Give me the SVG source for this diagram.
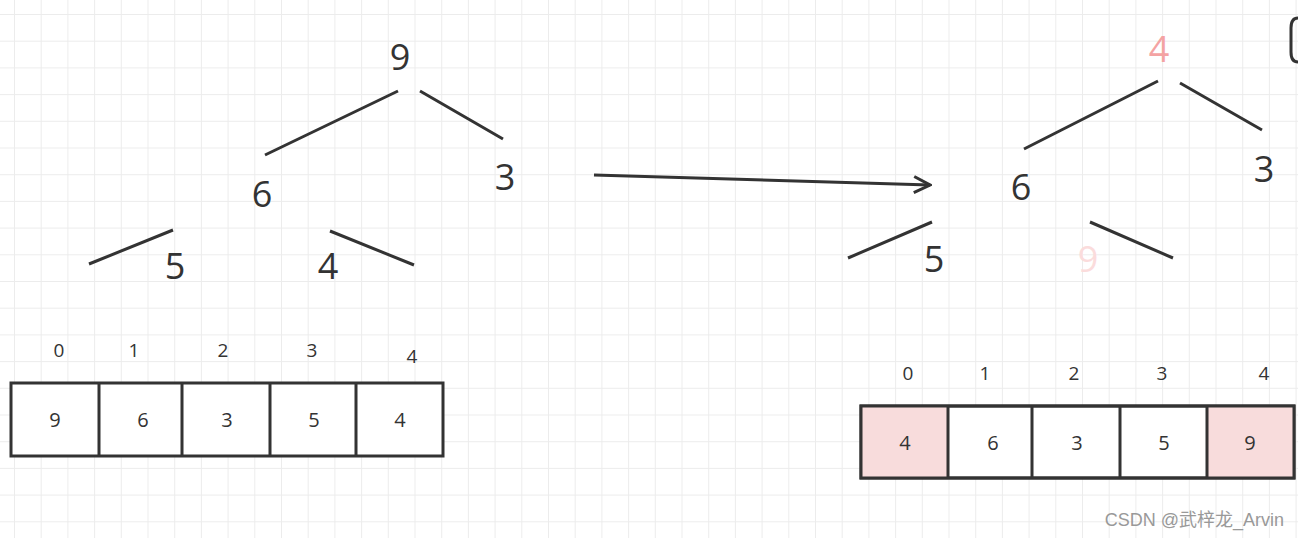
<svg xmlns="http://www.w3.org/2000/svg" width="1298" height="538" viewBox="0 0 1298 538">
<style>
.t{font-family:"Open Sans","Liberation Sans",sans-serif;fill:#333;text-anchor:middle}
.big{font-size:36px}
.idx{font-size:19px}
.cell{font-size:20px}
.ln{stroke:#333;stroke-width:3;fill:none}
.box{stroke:#333;stroke-width:3;fill:#fff}
.pk{fill:#f8dcdc}
</style>
<defs>
<pattern id="g" x="14" y="14" width="26.7" height="26.7" patternUnits="userSpaceOnUse">
<path d="M0 0H26.7M0 0V26.7" stroke="#ececec" stroke-width="2" fill="none"/>
</pattern>
<marker id="ah" viewBox="0 0 20 20" refX="18" refY="10" markerWidth="20" markerHeight="20" markerUnits="userSpaceOnUse" orient="auto">
<path d="M2 2L18 10L2 18" stroke="#333" stroke-width="3" fill="none"/>
</marker>
</defs>
<rect width="1298" height="538" fill="#fff"/>
<rect width="1298" height="538" fill="url(#g)"/>
<path d="M1298 18Q1291 18 1291 28V52Q1291 62 1298 62" stroke="#333" stroke-width="3" fill="none"/>
<g id="connectors">
<path class="ln" d="M398 91L265 155M420 91L503 139M173 230L89 264M330 231L414 265"/>
<path class="ln" d="M1158 81L1024 149M1180 83L1262 130M932 222L848 258M1090 222L1173 258"/>
<path class="ln" d="M594 175L930 185" marker-end="url(#ah)"/>
</g>
<g id="tree-left">
<text class="t big" x="400" y="70">9</text>
<text class="t big" x="262" y="207">6</text>
<text class="t big" x="505" y="190">3</text>
<text class="t big" x="175" y="279">5</text>
<text class="t big" x="328" y="279">4</text>
</g>
<g id="tree-right">
<text class="t big" x="1159" y="62" style="fill:#f4a3a3">4</text>
<text class="t big" x="1021" y="200">6</text>
<text class="t big" x="1264" y="182">3</text>
<text class="t big" x="934" y="272">5</text>
<text class="t big" x="1088" y="272" style="fill:#fbdcdc">9</text>
</g>
<g id="array-left">
<rect class="box" x="11" y="383" width="432" height="73"/>
<path class="ln" d="M99 383V456M182 383V456M270 383V456M356 383V456"/>
<text class="t cell" x="55" y="427">9</text><text class="t cell" x="143" y="427">6</text><text class="t cell" x="227" y="427">3</text><text class="t cell" x="314" y="427">5</text><text class="t cell" x="400" y="427">4</text>
<text class="t idx" x="59" y="357">0</text><text class="t idx" x="134" y="357">1</text><text class="t idx" x="223" y="357">2</text><text class="t idx" x="312" y="357">3</text><text class="t idx" x="412" y="363">4</text>
</g>
<g id="array-right">
<rect class="box" x="861" y="406" width="433" height="72"/>
<rect class="pk" x="862" y="407" width="86" height="70"/>
<rect class="pk" x="1208" y="407" width="85" height="70"/>
<path class="ln" d="M948 406V478M1032 406V478M1120 406V478M1207 406V478"/>
<rect x="861" y="406" width="433" height="72" fill="none" stroke="#333" stroke-width="3"/>
<text class="t cell" x="905" y="450">4</text><text class="t cell" x="993" y="450">6</text><text class="t cell" x="1077" y="450">3</text><text class="t cell" x="1164" y="450">5</text><text class="t cell" x="1250" y="450">9</text>
<text class="t idx" x="908" y="380">0</text><text class="t idx" x="985" y="380">1</text><text class="t idx" x="1074" y="380">2</text><text class="t idx" x="1162" y="380">3</text><text class="t idx" x="1264" y="380">4</text>
</g>
<text x="1284" y="526" style="font-family:'Liberation Sans','Noto Sans CJK SC',sans-serif;font-size:18px;fill:#999;text-anchor:end">CSDN @武梓龙_Arvin</text>
</svg>
